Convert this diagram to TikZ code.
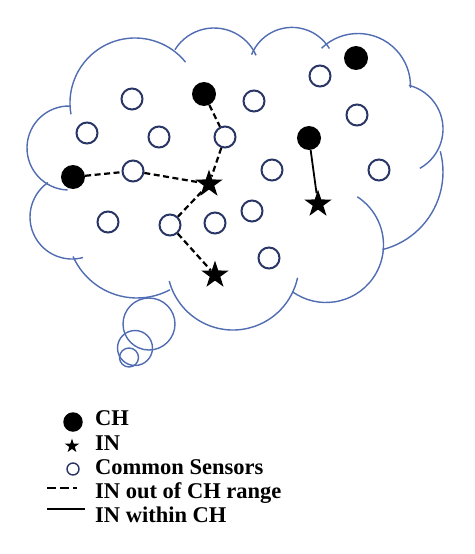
\documentclass[tikz,border=0pt]{standalone}
\usepackage{fontspec}
\setmainfont{Liberation Serif}
\usetikzlibrary{%
  positioning,
  shapes.geometric,
}

\definecolor{cloudblue}{RGB}{80,108,178}
\definecolor{sensorblue}{RGB}{42,54,102}

\tikzset{
  chnode/.style = {circle, fill = black,
    minimum size = 24pt, inner sep = 0pt},
  innode/.style = {star, star points = 5,
    star point ratio = 2.6, fill = black,
    minimum size = 29pt, inner sep = 0pt},
  sensor/.style = {circle, draw = sensorblue,
    line width = 2pt, fill = white,
    minimum size = 21pt, inner sep = 0pt},
  outrange/.style = {black, line width = 2.2pt,
    dash pattern = on 6pt off 3.5pt},
  within/.style = {black, line width = 1.8pt},
  lobe/.style = {cloudblue, line width = 1.4pt},
  legendtext/.style = {anchor = base west, inner sep = 0pt,
    font = \fontsize{22.5}{27}\selectfont\bfseries},
}

\begin{document}
\begin{tikzpicture}[x = 1pt, y = 1pt]
  \useasboundingbox (0,0) rectangle (474,-554);
  % x/y = pixels of the reference, y downwards

  % cloud: centre x / centre y / radius / from / to
  \foreach \cx/\cy/\r/\a/\b in {
      135/103/65/190/39, 69/148/42/88/268,
      72/217/42/125/285, 137/228/70/204/298,
      233/264/66/195/348, 326/245/57.5/234/417,
      363/172/80/284/375, 398/129/45/76/-61,
      358/86/52.5/134/-2, 292/71/43.6/158/31,
      214/74/46/148/24}
    \draw[lobe] ([shift = {(\a:\r pt)}] \cx,-\cy)
      arc[start angle = \a, end angle = \b, radius = \r pt];

  \draw[lobe] (149,-324) circle[radius = 26pt];
  \draw[lobe] (135,-348) circle[radius = 17.5pt];
  \draw[lobe] (129,-357.5) circle[radius = 9.5pt];

  % cluster heads
  \node[chnode] (ch1) at (356,-58) {};
  \node[chnode] (ch2) at (204,-94) {};
  \node[chnode] (ch3) at (309,-138) {};
  \node[chnode] (ch4) at (73,-177) {};

  % common sensors
  \node[sensor] (s1) at (320,-76) {};
  \node[sensor] (s2) at (132,-99) {};
  \node[sensor] (s3) at (254,-101) {};
  \node[sensor] (s4) at (357,-115) {};
  \node[sensor] (s5) at (87,-133) {};
  \node[sensor] (s6) at (159,-137) {};
  \node[sensor] (s7) at (225,-137) {};
  \node[sensor] (s8) at (133,-171) {};
  \node[sensor] (s9) at (272,-170) {};
  \node[sensor] (s10) at (379,-170) {};
  \node[sensor] (s11) at (252,-211) {};
  \node[sensor] (s12) at (108,-222) {};
  \node[sensor] (s13) at (170,-225) {};
  \node[sensor] (s14) at (215,-223) {};
  \node[sensor] (s15) at (269,-258) {};

  % IN
  \node[innode] (in1) at (209,-184) {};
  \node[innode] (in2) at (318,-204) {};
  \node[innode] (in3) at (215,-275) {};

  \draw[outrange] (ch2) -- (s7) -- (in1);
  \draw[outrange] (ch4) -- (s8) -- (in1);
  \draw[outrange] (in1) -- (s13) -- (in3);
  \draw[within] (ch3) -- (in2);

  % legend
  \node[chnode, minimum size = 19.5pt] (lch) at (73,-422) {};
  \node[innode, minimum size = 15pt] (lin) at (72,-446) {};
  \node[sensor, minimum size = 12pt,
    line width = 1.4pt] (lsensor) at (73,-469) {};
  \coordinate (lout1) at (47,-488);
  \coordinate (lout2) at (77,-488);
  \draw[outrange, line width = 1.6pt,
    dash pattern = on 8.5pt off 4.5pt] (lout1) -- (lout2);
  \coordinate (lwith1) at (47,-509);
  \coordinate (lwith2) at (85,-509);
  \draw[within] (lwith1) -- (lwith2);

  \node[legendtext] (tch) at (95,-425) {CH};
  \node[legendtext] (tin) at (95,-450) {IN};
  \node[legendtext] (tsensor) at (95,-474) {Common Sensors};
  \node[legendtext] (tout) at (95,-498) {IN out of CH range};
  \node[legendtext] (twith) at (95,-522) {IN within CH};
\end{tikzpicture}
\end{document}
